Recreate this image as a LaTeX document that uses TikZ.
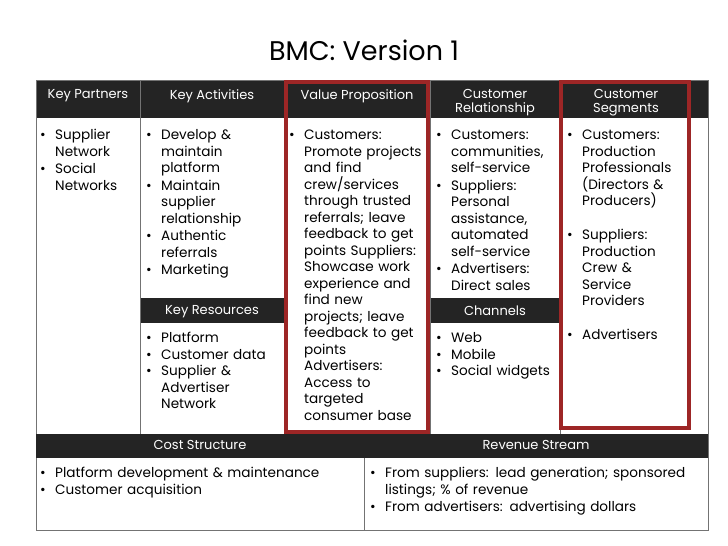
\documentclass[tikz,border=0pt]{standalone}
\usepackage{fontspec}
\setmainfont{Poppins}
\newcommand\nohy{\lefthyphenmin=64\relax\righthyphenmin=64\relax\raggedright}
\newcommand\itm[1]{\par\noindent\makebox[15pt][l]{•}\parbox[t]{\dimexpr\linewidth-15pt}{\nohy\strut #1\strut}\par}
\begin{document}
\begin{tikzpicture}[x=1pt,y=-1pt,
 hdr/.style={fill=black!86,draw=none},
 ht/.style={text=white,font=\fontsize{13}{16}\selectfont,align=center,anchor=north},
 body/.style={anchor=north west,inner sep=0pt,font=\fontsize{13.6}{16.5}\selectfont\nohy},
 grid/.style={draw=black!55,line width=1pt},
 hl/.style={draw=red!55!black!85!white,line width=4.5pt}]
\useasboundingbox (0,0) rectangle (728,546);
\fill[white] (0,0) rectangle (728,546);
\node[font=\fontsize{27}{30}\selectfont] (title) at (364,50) {BMC: Version 1};
% headers
\fill[hdr] (36,80) rectangle (708,118);
\fill[hdr] (140,298) rectangle (284,323);
\fill[hdr] (430,298) rectangle (560,323);
% grid
\draw[grid] (36,80) rectangle (708,530);
\foreach \x in {140,284,430,560} \draw[grid] (\x,80) -- (\x,434);
\node[ht] (kp) at (88,86) {Key Partners};
\node[ht] (ka) at (212,86) {Key Activities};
\node[ht] (vp) at (357,86) {Value Proposition};
\node[ht] (cr) at (495,86) {Customer\\[-2pt]Relationship};
\node[ht] (cs) at (626,86) {Customer\\[-2pt]Segments};
\node[ht] (kr) at (212,302) {Key Resources};
\node[ht] (ch) at (495,302) {Channels};
\node[body,text width=98pt] (kpt) at (40,123) {\itm{Supplier Network}\itm{Social Networks}};
\node[body,text width=132pt] (kat) at (146,123) {\itm{Develop \& maintain platform}\itm{Maintain supplier relationship}\itm{Authentic referrals}\itm{Marketing}};
\node[body,text width=135pt] (krt) at (146,326) {\itm{Platform}\itm{Customer data}\itm{Supplier \& Advertiser Network}};
\node[body,text width=136pt] (vpt) at (289,123) {\itm{Customers: Promote projects and find crew/services through trusted referrals; leave feedback to get points Suppliers: Showcase work experience and find new projects; leave feedback to get points Advertisers: Access to targeted consumer base}};
\node[body,text width=122pt] (crt) at (436,123) {\itm{Customers: communities, self-service}\itm{Suppliers: Personal assistance, automated self-service}\itm{Advertisers: Direct sales}};
\node[body,text width=124pt] (cht) at (436,326) {\itm{Web}\itm{Mobile}\itm{Social widgets}};
\node[body,text width=118pt] (cst) at (567,123) {\itm{Customers: Production Professionals (Directors \& Producers)}\vspace{16.5pt}\itm{Suppliers: Production Crew \& Service Providers}\vspace{16.5pt}\itm{Advertisers}};
% bottom
\fill[white] (37,434) rectangle (707,529);
\draw[grid] (36,434) rectangle (708,530);
\draw[grid] (364,458) -- (364,530);
\fill[hdr] (36,434) rectangle (708,458);
\node[ht] (cost) at (200,437) {Cost Structure};
\node[ht] (rev) at (536,437) {Revenue Stream};
\node[body,text width=320pt] (costt) at (40,461) {\itm{Platform development \& maintenance}\itm{Customer acquisition}};
\node[body,text width=330pt] (revt) at (370,461) {\itm{From suppliers: lead generation; sponsored listings; \% of revenue}\itm{From advertisers: advertising dollars}};
\draw[hl] (286,82) rectangle (428,432);
\draw[hl] (561,82) rectangle (689,428);
\end{tikzpicture}
\end{document}
